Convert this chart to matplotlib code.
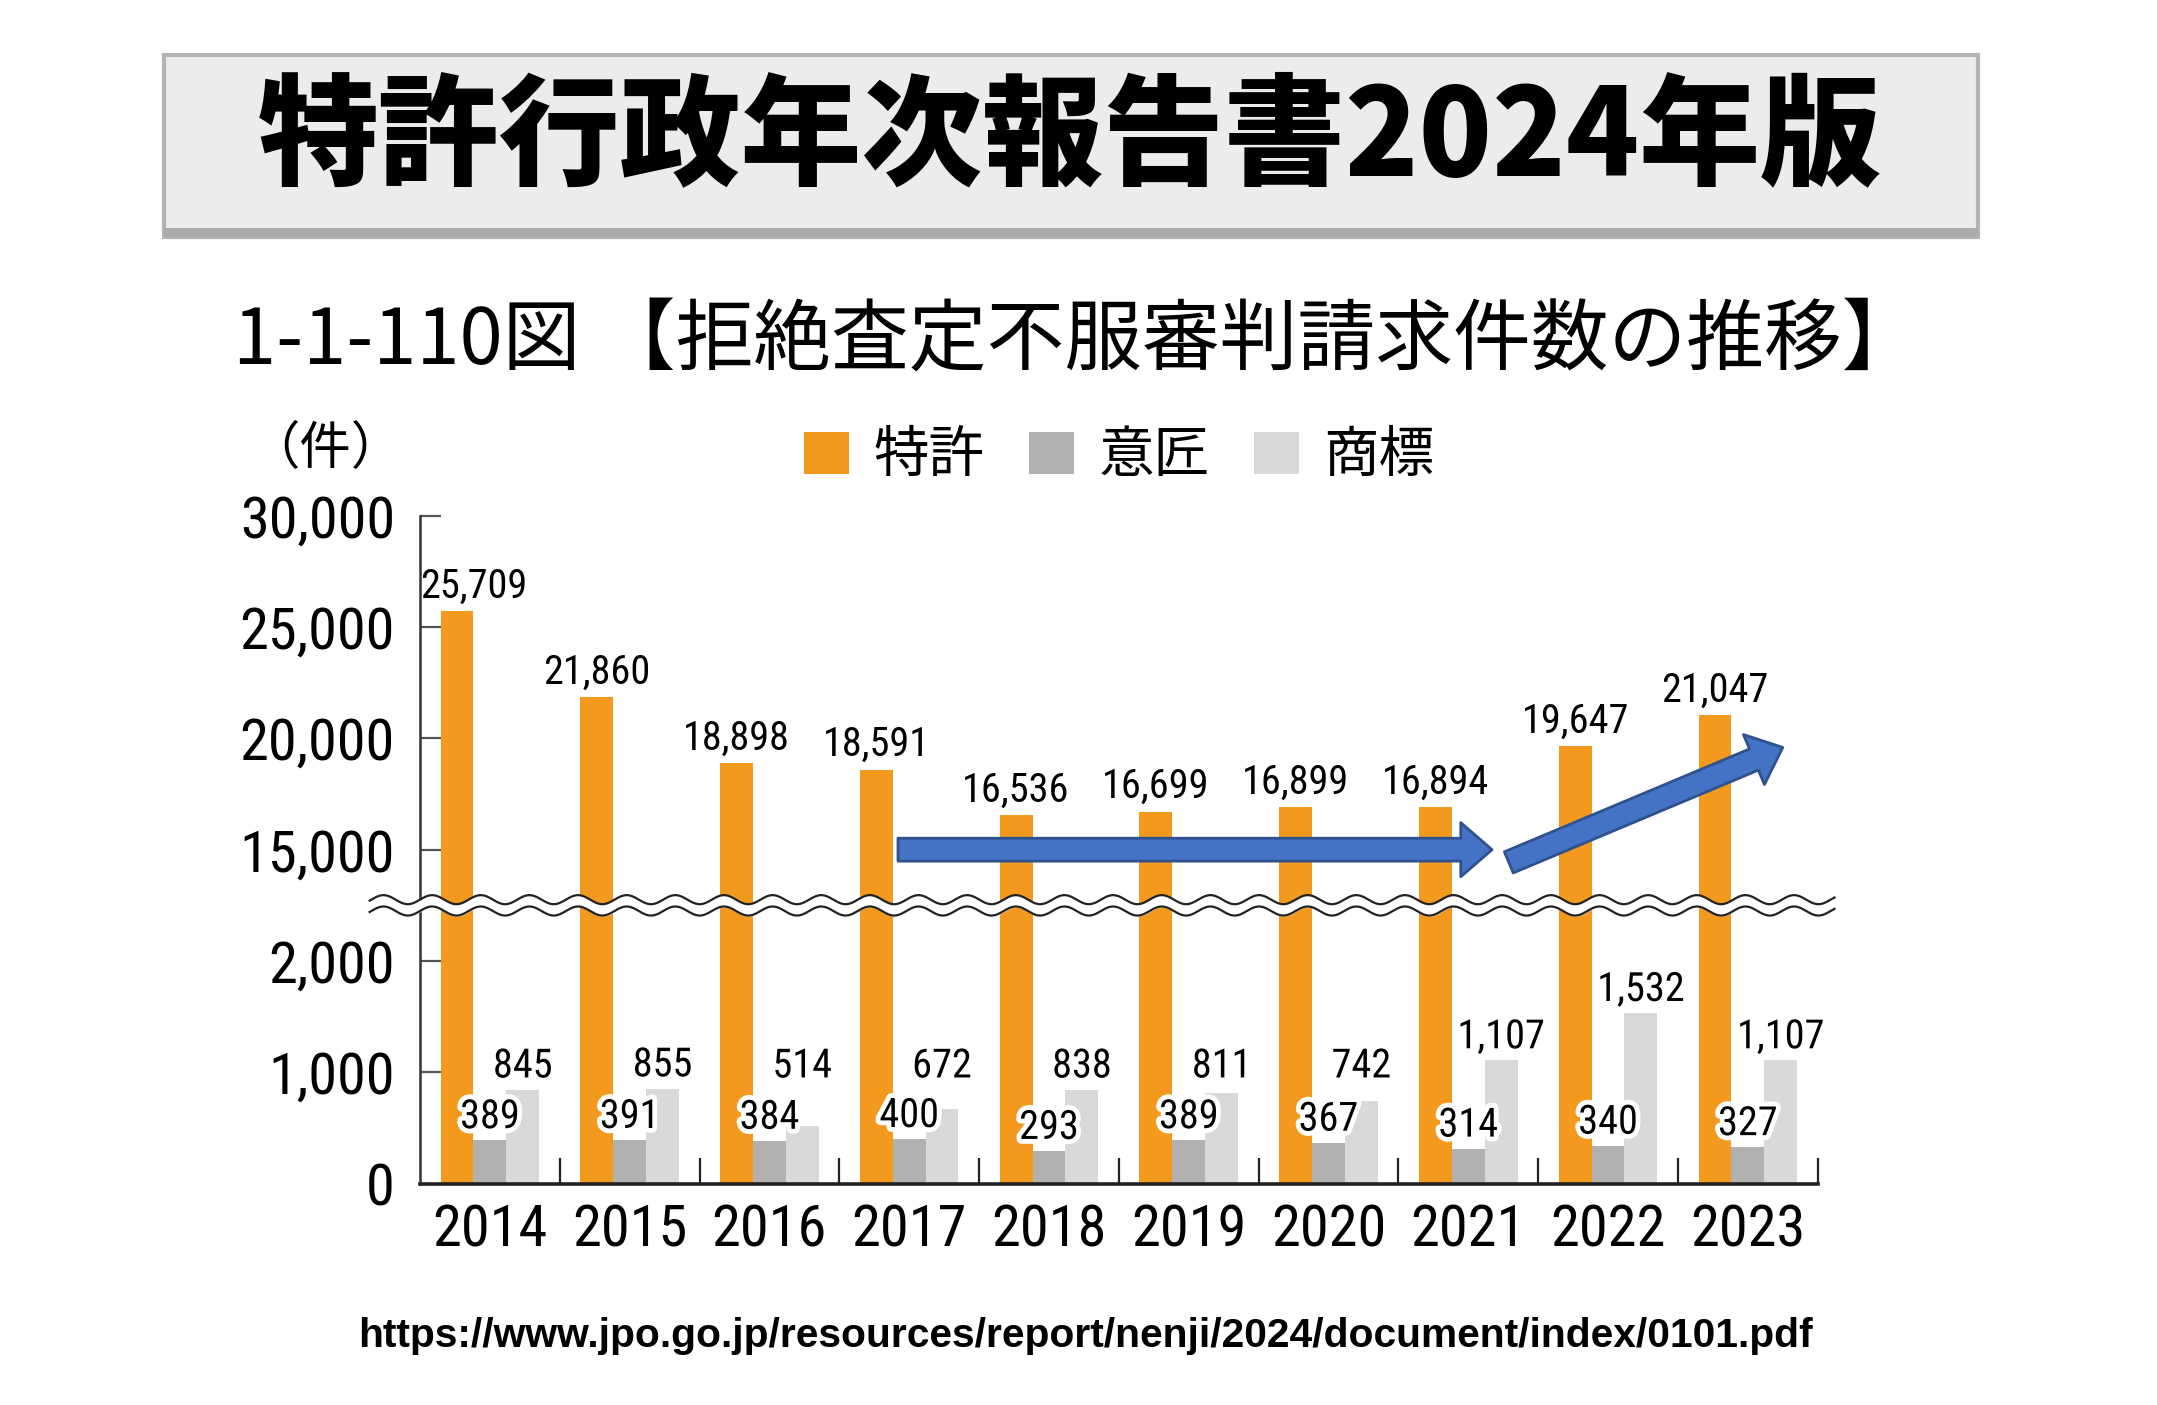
import numpy as np
import matplotlib
matplotlib.use('Agg')
import matplotlib.pyplot as plt
from matplotlib.patches import Rectangle, FancyArrowPatch
import matplotlib.patheffects as pe

# data
years = ['2014', '2015', '2016', '2017', '2018', '2019', '2020', '2021', '2022', '2023']
patent = [25709, 21860, 18898, 18591, 16536, 16699, 16899, 16894, 19647, 21047]
design = [389, 391, 384, 400, 293, 389, 367, 314, 340, 327]
trademark = [845, 855, 514, 672, 838, 811, 742, 1107, 1532, 1107]
series_names = ['特許', '意匠', '商標']
ytick_vals = [0, 1000, 2000, 15000, 20000, 25000, 30000]

colors = ['#F39A1E', '#B3B0B0', '#D9D9D9']
cjk = ['Noto Sans CJK JP', 'DejaVu Sans']
narrow = ['Roboto Condensed', 'DejaVu Sans']


# broken axis: 0-2,000 in 1,000 steps, then 15,000-30,000 in 5,000 steps
def fwd(v):
    v = np.asarray(v, dtype=float)
    return np.where(v <= 2500, v / 1000.0,
                    np.where(v >= 12500, 3 + (v - 15000) / 5000.0, 2.5))


def inv(u):
    u = np.asarray(u, dtype=float)
    return np.where(u <= 2.5, u * 1000.0, 15000 + (u - 3) * 5000.0)


fig = plt.figure(figsize=(21.57, 14.05), dpi=100)
fig.patch.set_facecolor('white')

# title box
fig.patches.append(Rectangle((0.076, 0.831), 0.841, 0.130, transform=fig.transFigure,
                             facecolor='#ECECEC', edgecolor='#B4B4B4', lw=3, zorder=0))
fig.patches.append(Rectangle((0.076, 0.831), 0.841, 0.007, transform=fig.transFigure,
                             facecolor='#ABABAB', edgecolor='none', zorder=1))
fig.text(0.496, 0.901, '特許行政年次報告書2024年版', family=cjk, weight=900,
         fontsize=87, ha='center', va='center')
fig.text(0.108, 0.757, '1-1-110図 【拒絶査定不服審判請求件数の推移】', family=cjk,
         fontsize=56, ha='left', va='center')
fig.text(0.151, 0.680, '（件）', family=cjk, fontsize=37, ha='center', va='center')
fig.text(0.503, 0.049, 'https://www.jpo.go.jp/resources/report/nenji/2024/document/index/0101.pdf',
         family=['Liberation Sans', 'DejaVu Sans'], weight='bold', fontsize=29.3,
         ha='center', va='center')

ax = fig.add_axes([0.1947, 0.1575, 0.648, 0.4755])
ax.set_yscale('function', functions=(fwd, inv))

x = np.arange(len(years))
w = 0.235
bars = []
for k, vals in enumerate([patent, design, trademark]):
    b = ax.bar(x + (k - 1) * w, vals, width=w, color=colors[k], label=series_names[k], zorder=2)
    bars.append(b)

ax.set_xlim(-0.5, 9.5)
ax.set_ylim(0, 30000)
ax.set_yticks(ytick_vals)
ax.set_yticklabels([f'{v:,}' for v in ytick_vals], family=narrow, fontsize=42)
ax.yaxis.set_minor_locator(matplotlib.ticker.NullLocator())
ax.set_xticks(x)
ax.set_xticklabels(years, family=narrow, fontsize=42)
ax.set_xticks(np.arange(0.5, 10, 1), minor=True)
ax.tick_params(axis='x', which='major', length=0, pad=14)
ax.tick_params(axis='x', which='minor', direction='in', length=19, width=1.6, color='#222')
ax.tick_params(axis='y', direction='in', length=15, width=1.6, color='#555', pad=18)

for s in ['top', 'right']:
    ax.spines[s].set_visible(False)
ax.spines['left'].set_linewidth(1.8)
ax.spines['left'].set_color('#333')
ax.spines['bottom'].set_linewidth(2.6)
ax.spines['bottom'].set_color('#222')

# value labels (small trademark labels sit on a common line, as in the source)
outline = [pe.withStroke(linewidth=7, foreground='white')]
for i in range(len(years)):
    dx = 12 if i == 0 else 0
    ax.annotate(f'{patent[i]:,}', (x[i] - w, patent[i]), xytext=(dx, 4),
                textcoords='offset points', ha='center', va='bottom',
                family=narrow, fontsize=29, zorder=7)
    ax.annotate(f'{design[i]:,}', (x[i], design[i]), xytext=(0, 3),
                textcoords='offset points', ha='center', va='bottom',
                family=narrow, fontsize=29, zorder=7, path_effects=outline)
    ax.annotate(f'{trademark[i]:,}', (x[i] + w, max(trademark[i], 845)), xytext=(0, 3),
                textcoords='offset points', ha='center', va='bottom',
                family=narrow, fontsize=29, zorder=7, path_effects=outline)

# wavy break band
wx = np.linspace(-0.036, 1.012, 1200)
wy = 2.5 / 6 + 0.0068 * np.sin(2 * np.pi * wx / 0.0348)
ax.fill_between(wx, wy - 0.0085, wy + 0.0085, color='white', transform=ax.transAxes,
                clip_on=False, zorder=5)
ax.plot(wx, wy + 0.0085, color='#222', lw=1.6, transform=ax.transAxes, clip_on=False, zorder=6)
ax.plot(wx, wy - 0.0085, color='#222', lw=1.6, transform=ax.transAxes, clip_on=False, zorder=6)

# trend arrows
astyle = 'simple,tail_width=0.55,head_width=1.3,head_length=0.75'
for p0, p1 in [((2.92, 15000), (7.17, 15000)), ((7.29, 14430), (9.25, 19590))]:
    arr = FancyArrowPatch(p0, p1, arrowstyle=astyle, mutation_scale=30,
                          facecolor='#4472C4', edgecolor='#2F528F', lw=2,
                          shrinkA=0, shrinkB=0, zorder=8)
    ax.add_patch(arr)

fig.legend(handles=bars, labels=series_names, loc='center', bbox_to_anchor=(0.519, 0.675),
           ncol=3, frameon=False, prop={'family': cjk, 'size': 40},
           handlelength=0.8, handleheight=0.8, handletextpad=0.45, columnspacing=0.8)

fig.savefig('out.png', dpi=100, facecolor='white')
